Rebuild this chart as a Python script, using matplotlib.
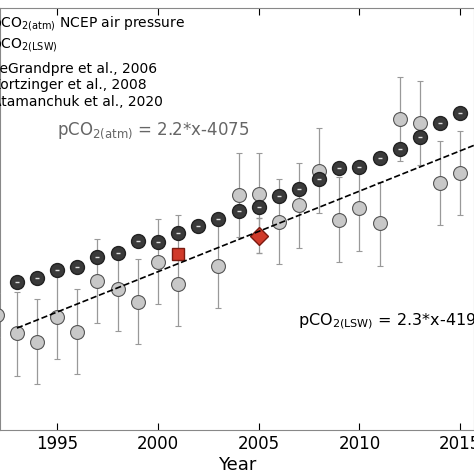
import matplotlib
matplotlib.use("Agg")
import matplotlib.pyplot as plt
import numpy as np

years_atm = np.arange(1993, 2016)
atm_zoom = [667,655,630,620,592,578,543,545,520,497,477,453,441,409,386,357,325,320,293,267,231,188,159]

years_lsw = [1992,1993,1994,1995,1996,1997,1998,1999,2000,2001,2003,2004,2005,2006,2007,2008,2009,2010,2011,2012,2013,2014,2015]
lsw_zoom = [765,820,845,770,815,663,686,727,605,671,617,404,403,485,436,332,480,445,490,177,188,370,338]
lsw_top = [700,695,718,630,688,537,565,598,478,465,490,278,278,357,310,205,352,318,365,50,62,243,213]
lsw_bot = [830,948,972,897,942,790,813,853,732,797,743,530,530,611,563,459,607,573,618,303,315,496,465]

def val(z):
    ypx = 60 + np.asarray(z, float) / 3
    return 385 + (328 - ypx) / 3.5

atm = val(atm_zoom)
lsw = val(lsw_zoom)
lo = lsw - val(lsw_bot)
hi = val(lsw_top) - lsw

lg_year, lg_val = [2001], val([581])
ko_year, ko_val = [2005], val([528])
ko_lo = ko_val - val([580]); ko_hi = val([475]) - ko_val

plt.rcParams['mathtext.default'] = 'regular'
fig = plt.figure(figsize=(4.74, 4.74), dpi=100)
ax = fig.add_axes([0, (474-430)/474, 1, (430-8)/474])
ax.set_xlim(1992.16, 2015.69)
ax.set_ylim(355.9, 476.4)

ax.errorbar(years_lsw, lsw, yerr=[lo, hi], fmt='o', ms=10, mfc='#c8c8c8', mec='#555555',
            mew=0.8, ecolor='#999999', elinewidth=0.9, capsize=2, zorder=3)
ax.plot(years_atm, atm, 'o', ms=10, mfc='#3a3a3a', mec='#222222', zorder=4)
ax.plot(years_atm, atm, '_', ms=3, color='#dddddd', mew=1, zorder=5)
ax.plot(lg_year, lg_val, 's', ms=8, mfc='#d03a2a', mec='#7a1a10', zorder=5)
ax.errorbar(ko_year, ko_val, yerr=[ko_lo, ko_hi], fmt='D', ms=9, mfc='#d03a2a', mec='#7a1a10',
            ecolor='#999999', elinewidth=0.9, capsize=2, zorder=5)

xl = np.array([1993, 2015.69])
ax.plot(xl, 385 + 2.3 * (xl - 1993), '--', color='black', lw=1.2, zorder=6)

ax.text(1995.0, 440, 'pCO$_{2(atm)}$ = 2.2*x-4075', color='#666666', fontsize=12)
ax.text(2006.95, 386, 'pCO$_{2(LSW)}$ = 2.3*x-4199', color='black', fontsize=11.5)

leg = ['pCO$_{2(atm)}$ NCEP air pressure', 'pCO$_{2(LSW)}$', 'LeGrandpre et al., 2006',
       'Kortzinger et al., 2008', 'Atamanchuk et al., 2020']
leg_y = [23, 45, 69, 85, 102]
for t, y in zip(leg, leg_y):
    fig.text(-8/474, 1 - y/474, t, fontsize=10, va='center', ha='left')

ax.set_xticks([1995, 2000, 2005, 2010, 2015])
ax.tick_params(axis='x', direction='in', labelsize=12, top=True, length=5)
ax.set_yticks([])
ax.set_xlabel('Year', fontsize=13, labelpad=2)
for s in ax.spines.values():
    s.set_color('#888888')
fig.savefig('out.png', dpi=100)
